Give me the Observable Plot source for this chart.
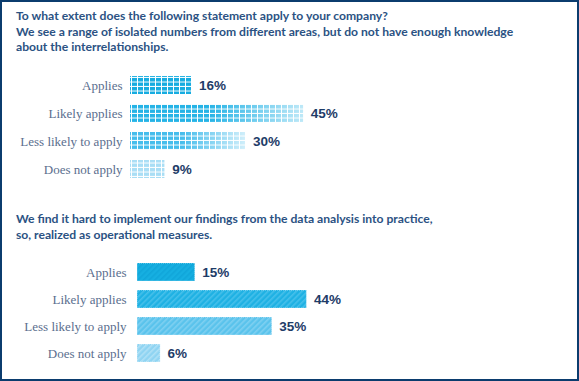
<!DOCTYPE html>
<html><head><meta charset="utf-8">
<script src="https://cdn.jsdelivr.net/npm/d3@7"></script>
<script src="https://cdn.jsdelivr.net/npm/@observablehq/plot@0.6"></script>
<style>
html,body{margin:0;padding:0;background:#fff;}
#frame{position:relative;width:579px;height:381px;box-sizing:border-box;border:2px solid #0b3c6e;overflow:hidden;background:#fff;}
.title{position:absolute;left:14px;font-family:Lato,"Open Sans",sans-serif;font-size:12.15px;font-weight:700;color:#2b5283;line-height:15.6px;white-space:nowrap;}
.chart{position:absolute;left:-2px;}
</style>
</head><body>
<div id="frame">
  <div class="title" id="t1" style="top:6px"></div>
  <div class="chart" id="c1" style="top:58px"></div>
  <div class="title" id="t2" style="top:209px"></div>
  <div class="chart" id="c2" style="top:245px"></div>
</div>
<script>
const categories = ["Applies", "Likely applies", "Less likely to apply", "Does not apply"];
const q1Values = [16, 45, 30, 9];
const q2Values = [15, 44, 35, 6];
const q1Title = ["To what extent does the following statement apply to your company?",
  "We see a range of isolated numbers from different areas, but do not have enough knowledge",
  "about the interrelationships."];
const q2Title = ["We find it hard to implement our findings from the data analysis into practice,",
  "so, realized as operational measures."];

// style palettes (colors of each category)
const q1Colors = ["#16ace0", "#25b3e6", "#45bdec", "#a9def5"];
const q1Fade = [1, 0.3, 0.25, 1];
const q2Colors = [["#16afe1", "#10a6da"], ["#1fb1e3", "#46c0eb"], ["#5ac3ec", "#7fd0f1"], ["#8fd4f2", "#b0e1f6"]];

document.getElementById("t1").innerHTML = q1Title.join("<br>");
document.getElementById("t2").innerHTML = q2Title.join("<br>");

function makeChart(values, prefix, padding, tickPad, height, marginLeft) {
  const data = categories.map((c, i) => ({category: c, value: values[i]}));
  const svg = Plot.plot({
    width: marginLeft + 385, height, marginLeft, marginRight: 0, marginTop: 5, marginBottom: 5,
    style: {background: "transparent", overflow: "visible"},
    x: {domain: [0, 100], axis: null},
    y: {domain: categories, padding, axis: null},
    color: {type: "ordinal", domain: categories, range: categories.map((c, i) => `url(#${prefix}${i})`)},
    marks: [
      Plot.barX(data, {x: "value", y: "category", fill: "category",
        stroke: prefix === "q2p" ? "#ffffff" : "none", strokeOpacity: 0.55, strokeDasharray: "1,1", strokeWidth: 1, inset: 0}),
      Plot.axisY({tickSize: 0, tickPadding: tickPad, label: null, fontFamily: "Liberation Serif, serif", fontSize: 13, fill: "#5a6e8e"}),
      Plot.text(data, {x: "value", y: "category", text: d => d.value + "%", dx: 7, textAnchor: "start",
        fontFamily: "Liberation Sans, Arial, sans-serif", fontWeight: "bold", fontSize: 13.5, fill: "#1e3c68"})
    ]
  });
  const defs = d3.select(svg).insert("defs", ":first-child");
  categories.forEach((c, i) => {
    if (prefix === "q1p") {
      const p = defs.append("pattern").attr("id", prefix + "g" + i).attr("patternUnits", "userSpaceOnUse")
        .attr("width", 6).attr("height", 4.5);
      p.append("rect").attr("width", 5).attr("height", 3.5).attr("fill", q1Colors[i]);
      const g = defs.append("linearGradient").attr("id", prefix + "f" + i);
      g.append("stop").attr("offset", "0").attr("stop-color", "#fff").attr("stop-opacity", 1);
      g.append("stop").attr("offset", q1Fade[i] < 1 ? "0.45" : "1").attr("stop-color", "#fff").attr("stop-opacity", 1);
      g.append("stop").attr("offset", "1").attr("stop-color", "#fff").attr("stop-opacity", q1Fade[i]);
      const m = defs.append("mask").attr("id", prefix + "m" + i).attr("maskContentUnits", "objectBoundingBox");
      m.append("rect").attr("width", 1).attr("height", 1).attr("fill", `url(#${prefix}f${i})`);
      const outer = defs.append("pattern").attr("id", prefix + i).attr("patternUnits", "userSpaceOnUse")
        .attr("width", 6).attr("height", 4.5);
      outer.append("rect").attr("width", 6).attr("height", 4.5).attr("fill", `url(#${prefix}g${i})`);
    } else {
      const p = defs.append("pattern").attr("id", prefix + i).attr("patternUnits", "userSpaceOnUse")
        .attr("width", 4).attr("height", 4).attr("patternTransform", "rotate(45)");
      p.append("rect").attr("width", 4).attr("height", 4).attr("fill", q2Colors[i][0]);
      p.append("rect").attr("width", 1.6).attr("height", 4).attr("fill", q2Colors[i][1]);
    }
  });
  if (prefix === "q1p") {
    d3.select(svg).selectAll("g[aria-label='bar'] rect").each(function(d, i) {
      d3.select(this).attr("mask", `url(#${prefix}m${i})`);
    });
  }
  return svg;
}

document.getElementById("c1").appendChild(makeChart(q1Values, "q1p", 0.36, 8, 134, 130));
document.getElementById("c2").appendChild(makeChart(q2Values, "q2p", 0.35, 11, 131, 137));
</script>
</body></html>
